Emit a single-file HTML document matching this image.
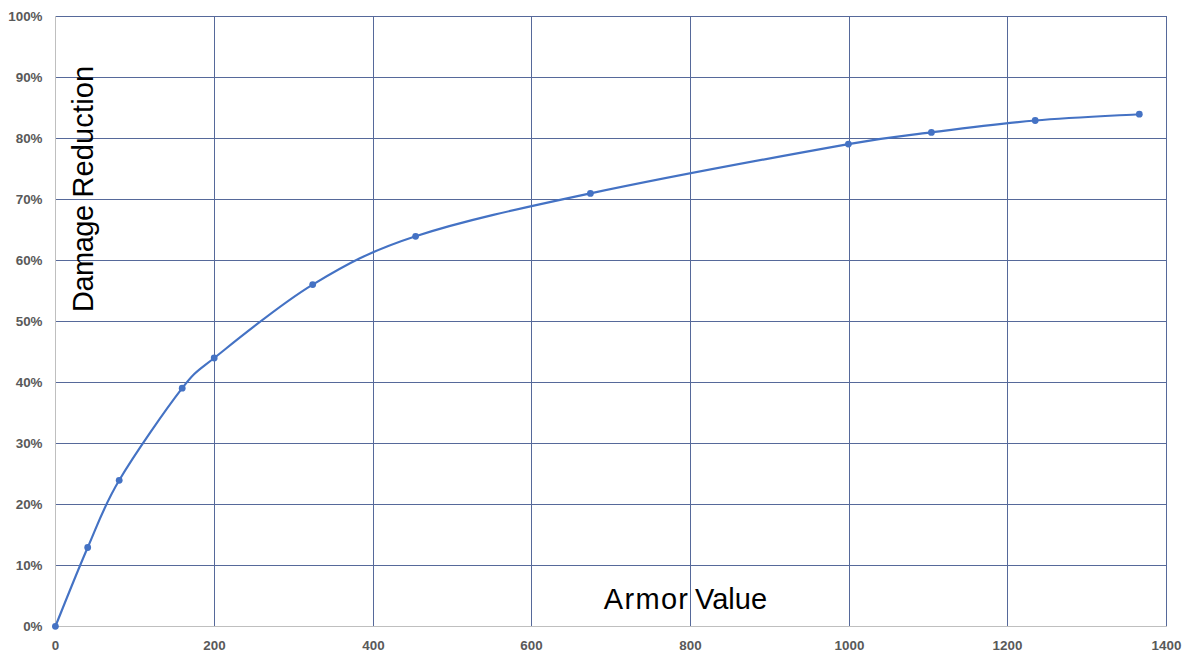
<!DOCTYPE html>
<html><head><meta charset="utf-8"><style>
html,body{margin:0;padding:0;background:#fff;}
body{width:1196px;height:663px;position:relative;overflow:hidden;font-family:"Liberation Sans",sans-serif;}
svg{position:absolute;left:0;top:0;}
.yl{position:absolute;left:0.5px;width:42px;text-align:right;font-weight:bold;font-size:13.4px;line-height:17px;color:#595959;}
.xl{position:absolute;top:637px;width:60px;text-align:center;font-weight:bold;font-size:13.4px;line-height:17px;color:#595959;}
.t1a{position:absolute;left:603.7px;top:582px;font-size:29px;line-height:34px;color:#000;white-space:nowrap;letter-spacing:1.35px;}
.t1b{position:absolute;left:695px;top:582px;font-size:29px;line-height:34px;color:#000;white-space:nowrap;}
.t2{position:absolute;left:66px;top:311.5px;letter-spacing:-0.15px;font-size:29px;line-height:34px;color:#000;white-space:nowrap;transform-origin:0 0;transform:rotate(-90deg);}
</style></head><body>
<svg width="1196" height="663" viewBox="0 0 1196 663">
<line x1="56" y1="565.5" x2="1167" y2="565.5" stroke="#56699A" stroke-width="1"/>
<line x1="56" y1="504.5" x2="1167" y2="504.5" stroke="#56699A" stroke-width="1"/>
<line x1="56" y1="443.5" x2="1167" y2="443.5" stroke="#56699A" stroke-width="1"/>
<line x1="56" y1="382.5" x2="1167" y2="382.5" stroke="#56699A" stroke-width="1"/>
<line x1="56" y1="321.5" x2="1167" y2="321.5" stroke="#56699A" stroke-width="1"/>
<line x1="56" y1="260.5" x2="1167" y2="260.5" stroke="#56699A" stroke-width="1"/>
<line x1="56" y1="199.5" x2="1167" y2="199.5" stroke="#56699A" stroke-width="1"/>
<line x1="56" y1="138.5" x2="1167" y2="138.5" stroke="#56699A" stroke-width="1"/>
<line x1="56" y1="77.5" x2="1167" y2="77.5" stroke="#56699A" stroke-width="1"/>
<line x1="56" y1="16.5" x2="1167" y2="16.5" stroke="#56699A" stroke-width="1"/>
<line x1="214.5" y1="16" x2="214.5" y2="626" stroke="#56699A" stroke-width="1"/>
<line x1="373.5" y1="16" x2="373.5" y2="626" stroke="#56699A" stroke-width="1"/>
<line x1="531.5" y1="16" x2="531.5" y2="626" stroke="#56699A" stroke-width="1"/>
<line x1="690.5" y1="16" x2="690.5" y2="626" stroke="#56699A" stroke-width="1"/>
<line x1="849.5" y1="16" x2="849.5" y2="626" stroke="#56699A" stroke-width="1"/>
<line x1="1007.5" y1="16" x2="1007.5" y2="626" stroke="#56699A" stroke-width="1"/>
<line x1="1166.5" y1="16" x2="1166.5" y2="626" stroke="#56699A" stroke-width="1"/>
<line x1="55.5" y1="16" x2="55.5" y2="627" stroke="#BFBFBF" stroke-width="1"/>
<line x1="55" y1="626.5" x2="1167" y2="626.5" stroke="#BFBFBF" stroke-width="1"/>
<path d="M55.40,626.30 C60.78,613.17 77.07,571.83 87.70,547.50 C98.33,523.17 103.45,506.85 119.20,480.30 C134.95,453.75 166.37,408.58 182.20,388.20 C195.70,370.83 196.97,371.68 214.20,358.00 C235.95,340.73 279.13,304.88 312.70,284.60 C346.27,264.32 369.32,251.50 415.60,236.30 C461.88,221.10 518.27,208.77 590.40,193.40 C662.53,178.03 791.57,154.27 848.40,144.10 C889.66,136.72 900.27,136.33 931.40,132.40 C962.53,128.47 1000.55,123.53 1035.20,120.50 C1069.85,117.47 1121.95,115.25 1139.30,114.20" fill="none" stroke="#4472C4" stroke-width="2.15" stroke-linecap="round" stroke-linejoin="round"/>
<circle cx="55.4" cy="626.3" r="3.4" fill="#4472C4"/>
<circle cx="87.7" cy="547.5" r="3.4" fill="#4472C4"/>
<circle cx="119.2" cy="480.3" r="3.4" fill="#4472C4"/>
<circle cx="182.2" cy="388.2" r="3.4" fill="#4472C4"/>
<circle cx="214.2" cy="358" r="3.4" fill="#4472C4"/>
<circle cx="312.7" cy="284.6" r="3.4" fill="#4472C4"/>
<circle cx="415.6" cy="236.3" r="3.4" fill="#4472C4"/>
<circle cx="590.4" cy="193.4" r="3.4" fill="#4472C4"/>
<circle cx="848.4" cy="144.1" r="3.4" fill="#4472C4"/>
<circle cx="931.4" cy="132.4" r="3.4" fill="#4472C4"/>
<circle cx="1035.2" cy="120.5" r="3.4" fill="#4472C4"/>
<circle cx="1139.3" cy="114.2" r="3.4" fill="#4472C4"/>
</svg>
<div class="yl" style="top:617.5px">0%</div>
<div class="yl" style="top:556.5px">10%</div>
<div class="yl" style="top:495.5px">20%</div>
<div class="yl" style="top:434.5px">30%</div>
<div class="yl" style="top:373.5px">40%</div>
<div class="yl" style="top:312.5px">50%</div>
<div class="yl" style="top:251.5px">60%</div>
<div class="yl" style="top:190.5px">70%</div>
<div class="yl" style="top:129.5px">80%</div>
<div class="yl" style="top:68.5px">90%</div>
<div class="yl" style="top:7.5px">100%</div>
<div class="xl" style="left:25.5px">0</div>
<div class="xl" style="left:184.5px">200</div>
<div class="xl" style="left:343.5px">400</div>
<div class="xl" style="left:501.5px">600</div>
<div class="xl" style="left:660.5px">800</div>
<div class="xl" style="left:819.5px">1000</div>
<div class="xl" style="left:977.5px">1200</div>
<div class="xl" style="left:1136.5px">1400</div>
<div class="t1a">Armor</div><div class="t1b">Value</div>
<div class="t2"><span style="letter-spacing:-0.5px">Damage</span> <span style="letter-spacing:0.12px">Reduction</span></div>
</body></html>
